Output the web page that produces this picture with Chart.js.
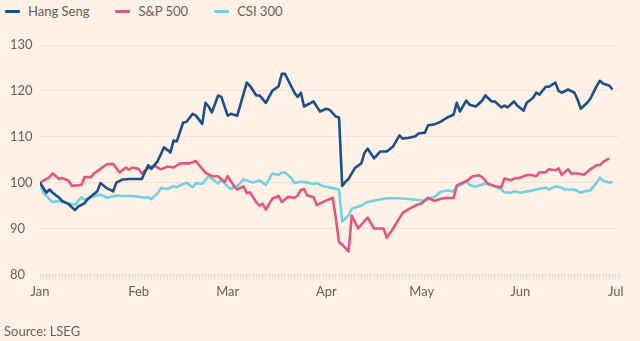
<!DOCTYPE html>
<html>
<head>
<meta charset="utf-8">
<script src="https://cdn.jsdelivr.net/npm/chart.js@4"></script>
<style>
  html, body { margin: 0; padding: 0; background: #fff1e5; }
  #wrap { position: relative; width: 640px; height: 341px; font-family: Lato, "Open Sans", sans-serif; color: #66605c; }
  #legend { position: absolute; left: 5px; top: 3px; display: flex; font-size: 13px; }
  .item { display: flex; align-items: center; margin-right: 26px; }
  .swatch { width: 15px; height: 3px; margin-right: 8px; border-radius: 1px; }
  #source { position: absolute; left: 4px; top: 323px; font-size: 13px; }
  canvas { position: absolute; left: 0; top: 0; }
</style>
</head>
<body>
<div id="wrap">
  <div id="legend"></div>
  <canvas id="chart" width="640" height="341"></canvas>
  <div id="source">Source: LSEG</div>
</div>
<script>
// day 0 = 1 Jan
const monthLabels = ['Jan', 'Feb', 'Mar', 'Apr', 'May', 'Jun', 'Jul'];
const monthStarts = [0, 31, 59, 90, 120, 151, 181];
const yTicks = [80, 90, 100, 110, 120, 130];

const seriesNames = ['Hang Seng', 'S&P 500', 'CSI 300'];
const seriesColors = ['#1b4f8d', '#e0587f', '#74d1df'];

const hsDays = [0, 2, 3, 4, 6, 7, 9, 11, 12, 14, 15, 16, 18, 19, 21, 23, 24, 26, 28, 30, 32, 34, 35, 37, 39, 41, 42, 43, 45, 46, 48, 49, 51, 52, 53, 54, 56, 57, 59, 60, 62, 65, 66, 68, 69, 71, 73, 75, 76, 77, 80, 81, 82, 83, 86, 88, 90, 91, 93, 94, 95, 96, 97, 99, 101, 102, 103, 105, 107, 109, 111, 113, 114, 116, 118, 119, 121, 122, 124, 126, 128, 130, 131, 132, 134, 135, 137, 139, 140, 142, 143, 145, 146, 147, 149, 150, 152, 153, 155, 156, 157, 159, 160, 162, 163, 164, 166, 168, 169, 170, 172, 173, 175, 176, 177, 179, 180];
const hsValues = [100, 97.8, 98.5, 97.8, 96.7, 96, 95.3, 94, 94.8, 95.5, 96.4, 97, 98.1, 99.9, 98.8, 98.1, 100, 100.7, 100.8, 100.8, 100.8, 103.8, 103, 104.7, 107.7, 106.6, 109.2, 109, 113.1, 113.2, 115, 114.6, 112.8, 117.4, 116.6, 115.3, 119, 118.7, 114.6, 115, 114.6, 121.8, 121.1, 119, 119, 117.4, 120, 121, 123.7, 123.7, 119.6, 118.7, 119.6, 116.6, 117.7, 115.5, 116.1, 115.9, 114.4, 114.2, 99.3, 100.2, 100.8, 103.2, 104.2, 106.5, 107.4, 105.3, 106.8, 106.8, 107.9, 110.3, 109.6, 109.8, 110.1, 110.7, 110.9, 112.5, 112.7, 113.3, 114.2, 114.8, 117.4, 115.5, 117.9, 117, 116.6, 117.9, 119, 117.7, 117.7, 116.4, 116.8, 116.4, 117.7, 116.8, 115.7, 117.4, 118.5, 119.6, 119.2, 120.9, 120.9, 121.8, 120, 119.6, 120.3, 119.6, 118.1, 116.1, 117.4, 118.3, 121.1, 122.2, 121.6, 121.1, 120.3];

const spDays = [0, 3, 4, 6, 7, 9, 10, 13, 14, 16, 17, 19, 21, 23, 25, 27, 28, 29, 31, 32, 34, 36, 38, 40, 42, 44, 47, 49, 50, 52, 54, 56, 58, 59, 61, 62, 64, 65, 66, 68, 69, 70, 71, 73, 75, 76, 78, 80, 81, 82, 83, 84, 86, 87, 89, 92, 93, 94, 95, 97, 98, 100, 102, 103, 105, 108, 109, 111, 114, 116, 118, 120, 122, 124, 126, 128, 130, 131, 134, 136, 138, 139, 141, 143, 145, 146, 148, 149, 151, 153, 154, 156, 157, 159, 160, 162, 163, 164, 166, 167, 169, 171, 173, 175, 176, 177, 179];
const spValues = [100, 101.2, 102, 100.8, 101, 100.4, 99.3, 99.5, 101.2, 101.2, 102, 103, 104, 104.1, 102.2, 103.3, 102.8, 103.3, 103, 102, 103.2, 103.7, 102.9, 103.5, 103.3, 104.2, 104.2, 104.7, 103.8, 102.2, 101.4, 101.4, 100.1, 101.4, 99.2, 98.5, 99.2, 97.7, 97.9, 95.7, 95, 95.4, 94.1, 96.5, 97.1, 95.8, 96.9, 96.7, 97.2, 98.4, 98.6, 97.2, 96.8, 95.1, 95.8, 96.7, 92.2, 87, 86.5, 85, 92.8, 90, 91.6, 92.4, 90, 90, 88, 90, 93.4, 94.3, 95, 95.5, 96.7, 96, 96.5, 96.7, 96.6, 99.4, 100.3, 101.4, 101.6, 101.2, 99.7, 99.2, 99, 100.9, 100.5, 100.9, 101.1, 101.6, 101.7, 101.4, 102.2, 102.3, 102.9, 102.7, 103.1, 101.7, 102.9, 102, 102, 101.7, 102.9, 103.8, 103.8, 104.5, 105.3];

const csiDays = [0, 1, 3, 4, 6, 7, 9, 11, 13, 14, 16, 18, 19, 21, 24, 26, 29, 33, 34, 35, 37, 38, 40, 42, 43, 45, 46, 48, 49, 51, 53, 54, 56, 57, 59, 60, 62, 64, 67, 69, 70, 71, 73, 75, 76, 77, 79, 80, 82, 84, 86, 87, 89, 90, 92, 94, 95, 97, 98, 101, 103, 106, 109, 112, 115, 119, 121, 124, 126, 128, 130, 131, 133, 134, 135, 137, 138, 140, 142, 143, 145, 146, 148, 149, 151, 154, 156, 157, 159, 160, 162, 164, 165, 168, 170, 171, 173, 175, 176, 177, 179, 180];
const csiValues = [100, 97.8, 96.4, 95.8, 96, 95.8, 95.5, 95.2, 96.8, 96.3, 96.8, 97.2, 97.4, 96.7, 97.2, 97.1, 97.1, 96.7, 96.8, 96.4, 97.7, 98.8, 98.6, 99.2, 99, 99.7, 100, 99, 99.9, 99.7, 101.4, 100.9, 99.8, 100.7, 99.1, 98.6, 99.2, 100.7, 100, 100.5, 100, 99.5, 102, 101.7, 102.2, 102.2, 101, 99.9, 100.2, 100, 99.7, 99.9, 99.2, 99.1, 98.8, 98.5, 91.5, 92.9, 94.3, 95, 95.8, 96.2, 96.6, 96.6, 96.5, 96.2, 96.1, 96.9, 98, 98.3, 98.1, 99.1, 99.8, 100.4, 99.5, 99.1, 99.4, 99.8, 99.5, 99.2, 98.5, 97.9, 97.8, 98.1, 97.8, 98.2, 98.5, 98.6, 98.9, 98.5, 99.2, 98.9, 98.5, 98.5, 97.8, 98.1, 98.3, 100, 101.1, 100.4, 100, 100.2];

const seriesDays = [hsDays, spDays, csiDays];
const seriesValues = [hsValues, spValues, csiValues];

// legend
const legend = document.getElementById('legend');
seriesNames.forEach((name, i) => {
    const item = document.createElement('div');
    item.className = 'item';
    item.innerHTML = `<span class="swatch" style="background:${seriesColors[i]}"></span><span>${name.replace('&', '&amp;')}</span>`;
    legend.appendChild(item);
});

const datasets = seriesNames.map((name, i) => ({
    label: name,
    data: seriesDays[i].map((d, j) => ({ x: d, y: seriesValues[i][j] })),
    borderColor: seriesColors[i],
    borderWidth: 2.6,
    borderJoinStyle: 'round',
    pointRadius: 0,
    tension: 0,
    fill: false
}));

const textColor = '#66605c';
const font = { family: 'Lato, "Open Sans", sans-serif', size: 13 };

new Chart(document.getElementById('chart'), {
    type: 'line',
    data: { datasets },
    options: {
        responsive: false,
        animation: false,
        layout: { padding: { left: 10, right: 21, top: 45, bottom: 36 } },
        plugins: { legend: { display: false }, tooltip: { enabled: false } },
        scales: {
            x: {
                type: 'linear',
                min: 0,
                max: 182,
                afterBuildTicks: scale => {
                    const t = [];
                    for (let d = 0; d <= 182; d++) t.push({ value: d });
                    scale.ticks = t;
                },
                ticks: {
                    autoSkip: false,
                    maxRotation: 0,
                    padding: 5,
                    color: textColor,
                    font,
                    callback: v => {
                        const k = monthStarts.indexOf(v);
                        return k >= 0 ? monthLabels[k] : '';
                    }
                },
                grid: {
                    drawOnChartArea: false,
                    drawTicks: true,
                    tickLength: 5,
                    color: '#eadbcf',
                    lineWidth: 1
                },
                border: { display: false }
            },
            y: {
                min: 80,
                max: 130,
                afterBuildTicks: scale => { scale.ticks = yTicks.map(v => ({ value: v })); },
                afterFit: scale => { scale.width = 30; },
                ticks: {
                    color: textColor,
                    font,
                    crossAlign: 'far',
                    padding: 0
                },
                grid: { color: '#f1e3d8', drawTicks: false },
                border: { display: false }
            }
        }
    }
});
</script>
</body>
</html>
